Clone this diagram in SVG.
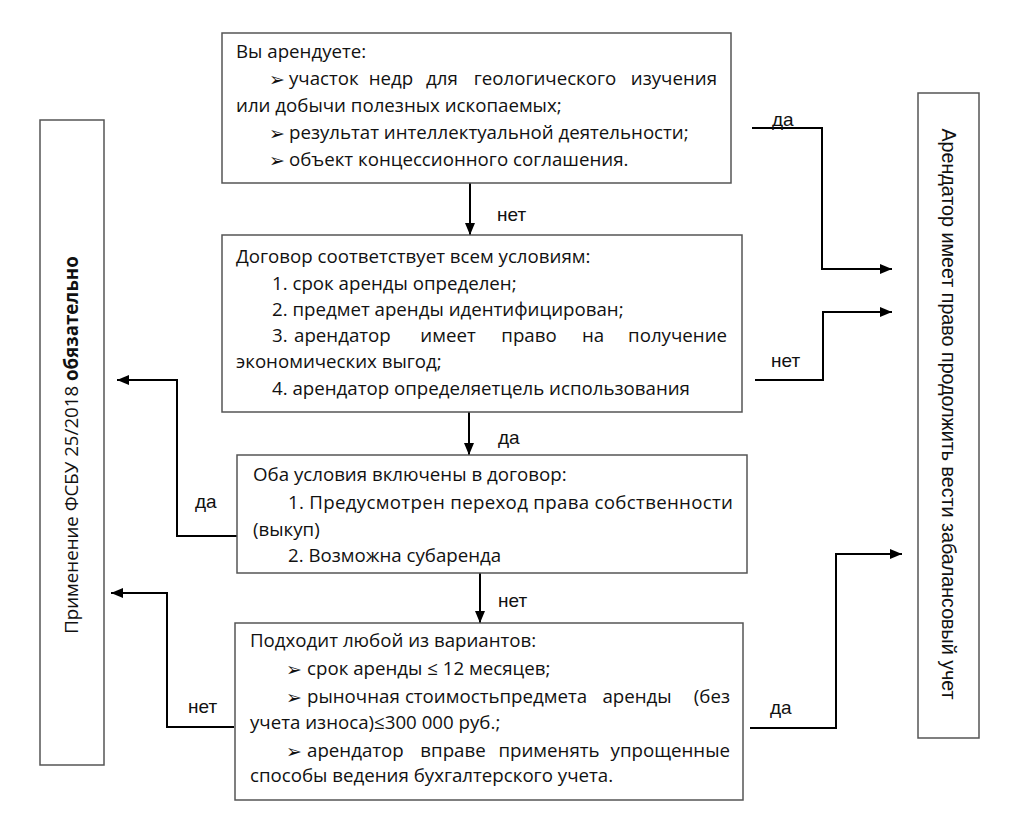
<svg xmlns="http://www.w3.org/2000/svg" width="1024" height="837" viewBox="0 0 1024 837">
<style>
.box{fill:#fff;stroke:#555;stroke-width:1.5}
.t{font-family:"Open Sans","DejaVu Sans",sans-serif;font-size:18.7px;fill:#111}
.b{font-family:"DejaVu Sans",sans-serif;font-size:19px;font-weight:bold}
.m{text-anchor:middle}
.e{text-anchor:end}
.lbl{font-family:"Liberation Sans",Arial,sans-serif;font-size:19px;fill:#111}
.side{font-family:"Liberation Sans",Arial,sans-serif;font-size:19.7px;fill:#111}
.conn{fill:none;stroke:#000;stroke-width:2}
</style>
<defs>
<marker id="ah" markerUnits="userSpaceOnUse" markerWidth="12" markerHeight="12" viewBox="0 0 12 12" refX="12" refY="6" orient="auto">
<path d="M0,1 L12,6 L0,11 z" fill="#000"/>
</marker>
</defs>
<rect width="1024" height="837" fill="#fff"/>

<g id="connectors">
<path class="conn" marker-end="url(#ah)" d="M470,183 V235"/>
<path class="conn" marker-end="url(#ah)" d="M752,128 H822 V269 H892"/>
<path class="conn" marker-end="url(#ah)" d="M755,380 H823 V312 H892"/>
<path class="conn" marker-end="url(#ah)" d="M469,412 V455"/>
<path class="conn" marker-end="url(#ah)" d="M237,536 H177 V380 H117"/>
<path class="conn" marker-end="url(#ah)" d="M480,573 V623"/>
<path class="conn" marker-end="url(#ah)" d="M234,727 H167 V593 H111"/>
<path class="conn" marker-end="url(#ah)" d="M750,728 H836 V554 H902"/>
<text class="lbl" x="497" y="221">нет</text>
<text class="lbl" x="772" y="126">да</text>
<text class="lbl" x="771" y="367">нет</text>
<text class="lbl" x="498" y="444">да</text>
<text class="lbl" x="195" y="508">да</text>
<text class="lbl" x="498" y="607">нет</text>
<text class="lbl" x="188" y="713">нет</text>
<text class="lbl" x="770" y="714">да</text>
</g>

<g id="node-rent">
<rect class="box" x="222" y="33" width="509" height="150"/>
<text class="t" x="236" y="58">Вы арендуете:</text>
<text class="t b" x="269" y="86">➢</text>
<text class="t" x="289" y="85">участок</text>
<text class="t m" x="391" y="85">недр</text>
<text class="t m" x="442" y="85">для</text>
<text class="t m" x="545" y="85">геологического</text>
<text class="t e" x="717" y="85">изучения</text>
<text class="t" x="236" y="112">или добычи полезных ископаемых;</text>
<text class="t b" x="269" y="140">➢</text>
<text class="t" x="289" y="139">результат интеллектуальной деятельности;</text>
<text class="t b" x="269" y="167">➢</text>
<text class="t" x="289" y="166">объект концессионного соглашения.</text>
</g>

<g id="node-contract">
<rect class="box" x="222" y="235" width="520" height="177"/>
<text class="t" x="236" y="263">Договор соответствует всем условиям:</text>
<text class="t" x="272" y="290">1. срок аренды определен;</text>
<text class="t" x="272" y="316">2. предмет аренды идентифицирован;</text>
<text class="t" x="272" y="342">3.</text>
<text class="t" x="294" y="342">арендатор</text>
<text class="t m" x="448" y="342">имеет</text>
<text class="t m" x="529" y="342">право</text>
<text class="t m" x="593" y="342">на</text>
<text class="t e" x="727" y="342">получение</text>
<text class="t" x="236" y="368">экономических выгод;</text>
<text class="t" x="272" y="395">4. арендатор определяетцель использования</text>
</g>

<g id="node-both">
<rect class="box" x="237" y="455" width="510" height="118"/>
<text class="t" x="253" y="481">Оба условия включены в договор:</text>
<text class="t" x="288" y="509" textLength="445" lengthAdjust="spacing">1. Предусмотрен переход права собственности</text>
<text class="t" x="253" y="536">(выкуп)</text>
<text class="t" x="288" y="562">2. Возможна субаренда</text>
</g>

<g id="node-any">
<rect class="box" x="235" y="623" width="508" height="177"/>
<text class="t" x="250" y="647">Подходит любой из вариантов:</text>
<text class="t b" x="286" y="676">➢</text>
<text class="t" x="307" y="675">срок аренды ≤ 12 месяцев;</text>
<text class="t b" x="286" y="704">➢</text>
<text class="t" x="307" y="703">рыночная</text>
<text class="t m" x="496" y="703">стоимостьпредмета</text>
<text class="t m" x="637" y="703">аренды</text>
<text class="t e" x="730" y="703">(без</text>
<text class="t" x="250" y="729">учета износа)≤300 000 руб.;</text>
<text class="t b" x="286" y="758">➢</text>
<text class="t" x="307" y="757">арендатор</text>
<text class="t m" x="453" y="757">вправе</text>
<text class="t m" x="549" y="757">применять</text>
<text class="t e" x="730" y="757">упрощенные</text>
<text class="t" x="250" y="782">способы ведения бухгалтерского учета.</text>
</g>

<g id="node-fsbu">
<rect class="box" x="40" y="120" width="64" height="645"/>
<text class="t m" transform="translate(78,445) rotate(-90)">Применение ФСБУ 25/2018 <tspan font-weight="bold">обязательно</tspan></text>
</g>

<g id="node-offbalance">
<rect class="box" x="918" y="93" width="61" height="645"/>
<text class="side" text-anchor="middle" transform="translate(942,414) rotate(90)">Арендатор имеет право продолжить вести забалансовый учет</text>
</g>
</svg>
